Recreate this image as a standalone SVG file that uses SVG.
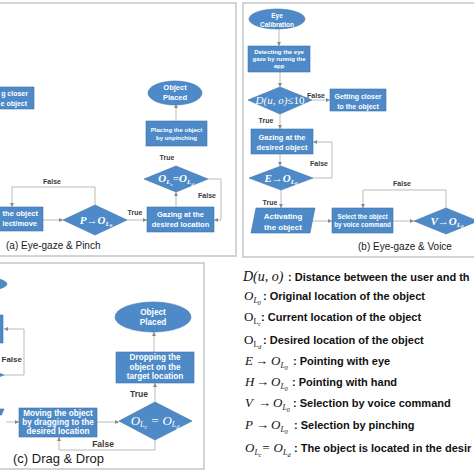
<svg xmlns="http://www.w3.org/2000/svg" width="474" height="474" viewBox="0 0 474 474">
<style>
.frame{fill:#fff;stroke:#c3c7cb;stroke-width:1.5}
.box{fill:#4e8ac8;stroke:#3f74a8;stroke-width:.6}
.bt{font-family:"Liberation Sans",Arial,sans-serif;font-weight:bold;fill:#fff;text-anchor:middle}
.mw{font-family:"Liberation Serif","Times New Roman",serif;font-style:italic;font-weight:bold;fill:#fff;text-anchor:middle}
.lbl{font-family:"Liberation Sans",Arial,sans-serif;font-weight:bold;fill:#3a3a3a;text-anchor:middle}
.cap{font-family:"Liberation Sans",Arial,sans-serif;fill:#1a1a1a}
.cn{fill:none;stroke:#a9a9a9;stroke-width:.8}
.lg{font-family:"Liberation Sans",Arial,sans-serif;font-weight:bold;font-size:11px;fill:#111}
.lm{font-family:"Liberation Serif","Times New Roman",serif;font-style:italic;font-size:13px;fill:#111}
.lu{font-family:"Liberation Serif","Times New Roman",serif;font-size:13px;fill:#111}
</style>
<defs>
<marker id="ah" viewBox="0 0 6 6" refX="6" refY="3" markerUnits="userSpaceOnUse" markerWidth="4" markerHeight="4" orient="auto"><path d="M0,0L6,3L0,6z" fill="#8a8a8a"/></marker>
</defs>
<rect x="0" y="0" width="474" height="474" fill="#fff"/>

<g id="frames">
<rect class="frame" x="-5" y="3" width="241" height="253"/>
<rect class="frame" x="243" y="3" width="240" height="254"/>
<rect class="frame" x="-5" y="263" width="209" height="206"/>
</g>

<g id="connectors">
<!-- (a) -->
<path class="cn" d="M176,121V104" marker-end="url(#ah)"/>
<path class="cn" d="M176,207V192" marker-end="url(#ah)"/>
<path class="cn" d="M208,179H221V220H214" marker-end="url(#ah)"/>
<path class="cn" d="M127,220H147" marker-end="url(#ah)"/>
<path class="cn" d="M43,220H63" marker-end="url(#ah)"/>
<path class="cn" d="M95,205V187H12V207" marker-end="url(#ah)"/>
<!-- (b) -->
<path class="cn" d="M279,29V46" marker-end="url(#ah)"/>
<path class="cn" d="M280,72V87" marker-end="url(#ah)"/>
<path class="cn" d="M312,100H330" marker-end="url(#ah)"/>
<path class="cn" d="M280,114V129" marker-end="url(#ah)"/>
<path class="cn" d="M280,154V166" marker-end="url(#ah)"/>
<path class="cn" d="M313,178H332V142H313" marker-end="url(#ah)"/>
<path class="cn" d="M281,190V208" marker-end="url(#ah)"/>
<path class="cn" d="M312,221H332" marker-end="url(#ah)"/>
<path class="cn" d="M393,221H414" marker-end="url(#ah)"/>
<path class="cn" d="M446,208V190H363V208" marker-end="url(#ah)"/>
<!-- (c) -->
<path class="cn" d="M4,375H24V329H4" marker-end="url(#ah)"/>
<path class="cn" d="M6,422H19" marker-end="url(#ah)"/>
<path class="cn" d="M97,422H119" marker-end="url(#ah)"/>
<path class="cn" d="M155,402V383" marker-end="url(#ah)"/>
<path class="cn" d="M154,352V332" marker-end="url(#ah)"/>
<path class="cn" d="M155,440V450H59V437" marker-end="url(#ah)"/>
</g>

<g id="edge-labels">
<text class="lbl" font-size="7" x="167" y="159.5">True</text>
<text class="lbl" font-size="7" x="207" y="198">False</text>
<text class="lbl" font-size="7" x="135" y="214.5">True</text>
<text class="lbl" font-size="7" x="52" y="184">False</text>
<text class="lbl" font-size="7" x="316" y="97.5">False</text>
<text class="lbl" font-size="7" x="266" y="123">True</text>
<text class="lbl" font-size="7" x="319" y="165.5">False</text>
<text class="lbl" font-size="7" x="270" y="204.5">True</text>
<text class="lbl" font-size="7" x="402" y="185.5">False</text>
<text class="lbl" font-size="8" x="22" y="362" style="text-anchor:end">False</text>
<text class="lbl" font-size="8.5" x="139" y="397">True</text>
<text class="lbl" font-size="8.5" x="103" y="447">False</text>
</g>

<!-- panel (a) -->
<g id="a-getting-closer">
<rect class="box" x="-40" y="87" width="74" height="22"/>
<text class="bt" font-size="7" x="28" y="95.5" style="text-anchor:end">g closer</text>
<text class="bt" font-size="7" x="27" y="105.5" style="text-anchor:end">e object</text>
</g>
<g id="a-object-placed">
<ellipse class="box" cx="175" cy="93" rx="27" ry="12"/>
<text class="bt" font-size="7.5" x="175" y="89.7">Object</text>
<text class="bt" font-size="7.5" x="175" y="99.7">Placed</text>
</g>
<g id="a-placing">
<rect class="box" x="146" y="121" width="61" height="25"/>
<text class="bt" font-size="6" x="176.5" y="132.2">Placing the object</text>
<text class="bt" font-size="6" x="176.5" y="140.4">by unpinching</text>
</g>
<g id="a-check-located">
<polygon class="box" points="144,179 176,166 208,179 176,192"/>
<text class="mw" font-size="11" x="176" y="182">O<tspan font-size="7" dy="2">L</tspan><tspan font-size="5" dy="1.5">c</tspan><tspan dy="-3.5">=O</tspan><tspan font-size="7" dy="2">L</tspan><tspan font-size="5" dy="1.5">d</tspan></text>
</g>
<g id="a-gazing">
<rect class="box" x="147" y="207" width="67" height="25"/>
<text class="bt" font-size="7.5" x="180.5" y="216.7">Gazing at the</text>
<text class="bt" font-size="7.5" x="180.5" y="226.7">desired location</text>
</g>
<g id="a-check-pinch">
<polygon class="box" points="63,220 95,205 127,220 95,235"/>
<text class="mw" font-size="11" x="96" y="223.5">P→O<tspan font-size="7" dy="2">L</tspan><tspan font-size="5" dy="1.5">0</tspan></text>
</g>
<g id="a-select">
<rect class="box" x="-30" y="207" width="73" height="24"/>
<text class="bt" font-size="7.5" x="38" y="215.7" style="text-anchor:end">the object</text>
<text class="bt" font-size="7.5" x="37" y="225.7" style="text-anchor:end">lect/move</text>
</g>
<text class="cap" font-size="10" x="6" y="249">(a) Eye-gaze &amp; Pinch</text>

<!-- panel (b) -->
<g id="b-calibration">
<ellipse class="box" cx="277" cy="19" rx="28" ry="10"/>
<text class="bt" font-size="6.5" x="277" y="18.3">Eye</text>
<text class="bt" font-size="6.5" x="277" y="27.3">Calibration</text>
</g>
<g id="b-detecting">
<rect class="box" x="248" y="46" width="62" height="26"/>
<text class="bt" font-size="6" x="279" y="54.2">Detecting the eye</text>
<text class="bt" font-size="6" x="279" y="61.2">gaze by runnig the</text>
<text class="bt" font-size="6" x="279" y="68.2">app</text>
</g>
<g id="b-check-distance">
<polygon class="box" points="248,100 280,87 312,100 280,114"/>
<text class="mw" font-size="11" x="280" y="104" style="font-weight:normal">D(u, o)<tspan style="font-style:normal">≤10</tspan></text>
</g>
<g id="b-getting-closer">
<rect class="box" x="330" y="89" width="56" height="22"/>
<text class="bt" font-size="7" x="358" y="98.5">Getting closer</text>
<text class="bt" font-size="7" x="358" y="108.5">to the object</text>
</g>
<g id="b-gazing">
<rect class="box" x="251" y="129" width="62" height="25"/>
<text class="bt" font-size="7.5" x="282" y="139.7">Gazing at the</text>
<text class="bt" font-size="7.5" x="282" y="149.7">desired object</text>
</g>
<g id="b-check-eye">
<polygon class="box" points="249,178 281,166 313,178 281,190"/>
<text class="mw" font-size="11" x="281" y="181.5">E→O<tspan font-size="7" dy="2">L</tspan><tspan font-size="5" dy="1.5">0</tspan></text>
</g>
<g id="b-activating">
<polygon class="box" points="256,208 315,208 310,233 251,233"/>
<text class="bt" font-size="8" x="283" y="218.7">Activating</text>
<text class="bt" font-size="8" x="283" y="229.7">the object</text>
</g>
<g id="b-select-voice">
<rect class="box" x="332" y="208" width="61" height="25"/>
<text class="bt" font-size="6.3" x="362.5" y="218.8">Select the object</text>
<text class="bt" font-size="6.3" x="362.5" y="227.2">by voice command</text>
</g>
<g id="b-check-voice">
<polygon class="box" points="414,221 446,208 478,221 446,234"/>
<text class="mw" font-size="11" x="447" y="224.5">V→O<tspan font-size="7" dy="2">L</tspan><tspan font-size="5" dy="1.5">0</tspan></text>
</g>
<text class="cap" font-size="10" x="358" y="250">(b) Eye-gaze &amp; Voice</text>

<!-- panel (c) -->
<g id="c-start">
<ellipse class="box" cx="-30" cy="284" rx="37" ry="8"/>
</g>
<g id="c-step">
<rect class="box" x="-60" y="315" width="63" height="28"/>
</g>
<g id="c-check">
<polygon class="box" points="-70,375 -33,360 4,375 -33,390"/>
</g>
<g id="c-fragment">
<polygon class="box" points="0,409 4,409 1.5,415 0,415"/>
</g>
<g id="c-moving">
<rect class="box" x="19" y="408" width="78" height="29"/>
<text class="bt" font-size="8.2" x="58" y="416">Moving the object</text>
<text class="bt" font-size="8.2" x="58" y="425">by dragging to the</text>
<text class="bt" font-size="8.2" x="58" y="434">desired location</text>
</g>
<g id="c-check-located">
<polygon class="box" points="119,421 155,402 192,421 155,440"/>
<text class="mw" font-size="13" x="155" y="424.5" style="font-weight:normal">O<tspan font-size="8" dy="2.5">L</tspan><tspan font-size="6" dy="2">c</tspan><tspan dy="-4.5"> = O</tspan><tspan font-size="8" dy="2.5">L</tspan><tspan font-size="6" dy="2">d</tspan></text>
</g>
<g id="c-dropping">
<rect class="box" x="116" y="352" width="78" height="31"/>
<text class="bt" font-size="8.2" x="155" y="360">Dropping the</text>
<text class="bt" font-size="8.2" x="155" y="370">object on the</text>
<text class="bt" font-size="8.2" x="155" y="379">target location</text>
</g>
<g id="c-object-placed">
<ellipse class="box" cx="153" cy="317" rx="38" ry="15"/>
<text class="bt" font-size="8.2" x="153" y="315">Object</text>
<text class="bt" font-size="8.2" x="153" y="325">Placed</text>
</g>
<text class="cap" font-size="13" x="13" y="463">(c) Drag &amp; Drop</text>

<!-- legend -->
<g id="legend">
<text class="lm" x="243" y="281" style="font-size:14px">D(u, o)</text>
<text class="lg" x="288" y="281">: Distance between the user and th</text>

<text class="lm" x="244" y="300">O<tspan style="font-size:8px" dy="3">L</tspan><tspan style="font-size:6px" dy="2">0</tspan></text>
<text class="lg" x="263" y="300">: Original location of the object</text>

<text class="lu" x="244" y="321">O<tspan style="font-size:8px" dy="3">L</tspan><tspan style="font-size:6px;font-style:italic" dy="2">c</tspan></text>
<text class="lg" x="261" y="321">: Current location of the object</text>

<text class="lu" x="244" y="344">O<tspan style="font-size:8px" dy="3">L</tspan><tspan style="font-size:6px;font-style:italic" dy="2">d</tspan></text>
<text class="lg" x="263" y="344">: Desired location of the object</text>

<text class="lm" x="245" y="365">E</text>
<text class="lu" x="255" y="364.5">→</text>
<text class="lm" x="271" y="365">O<tspan style="font-size:8px" dy="3">L</tspan><tspan style="font-size:6px" dy="2">0</tspan></text>
<text class="lg" x="293" y="365">: Pointing with eye</text>

<text class="lm" x="245" y="386">H</text>
<text class="lu" x="256" y="385.5">→</text>
<text class="lm" x="271" y="386">O<tspan style="font-size:8px" dy="3">L</tspan><tspan style="font-size:6px" dy="2">0</tspan></text>
<text class="lg" x="292" y="386">: Pointing with hand</text>

<text class="lm" x="245" y="407">V</text>
<text class="lu" x="258" y="406.5">→</text>
<text class="lm" x="273" y="407">O<tspan style="font-size:8px" dy="3">L</tspan><tspan style="font-size:6px" dy="2">0</tspan></text>
<text class="lg" x="293" y="407">: Selection by voice command</text>

<text class="lm" x="245" y="429">P</text>
<text class="lu" x="256" y="428.5">→</text>
<text class="lm" x="271" y="429">O<tspan style="font-size:8px" dy="3">L</tspan><tspan style="font-size:6px" dy="2">0</tspan></text>
<text class="lg" x="294" y="429">: Selection by pinching</text>

<text class="lm" x="245" y="452">O<tspan style="font-size:8px" dy="3">L</tspan><tspan style="font-size:6px" dy="2">c</tspan><tspan dy="-5">= O</tspan><tspan style="font-size:8px" dy="3">L</tspan><tspan style="font-size:6px" dy="2">d</tspan></text>
<text class="lg" x="294" y="452">: The object is located in the desir</text>
</g>
</svg>
